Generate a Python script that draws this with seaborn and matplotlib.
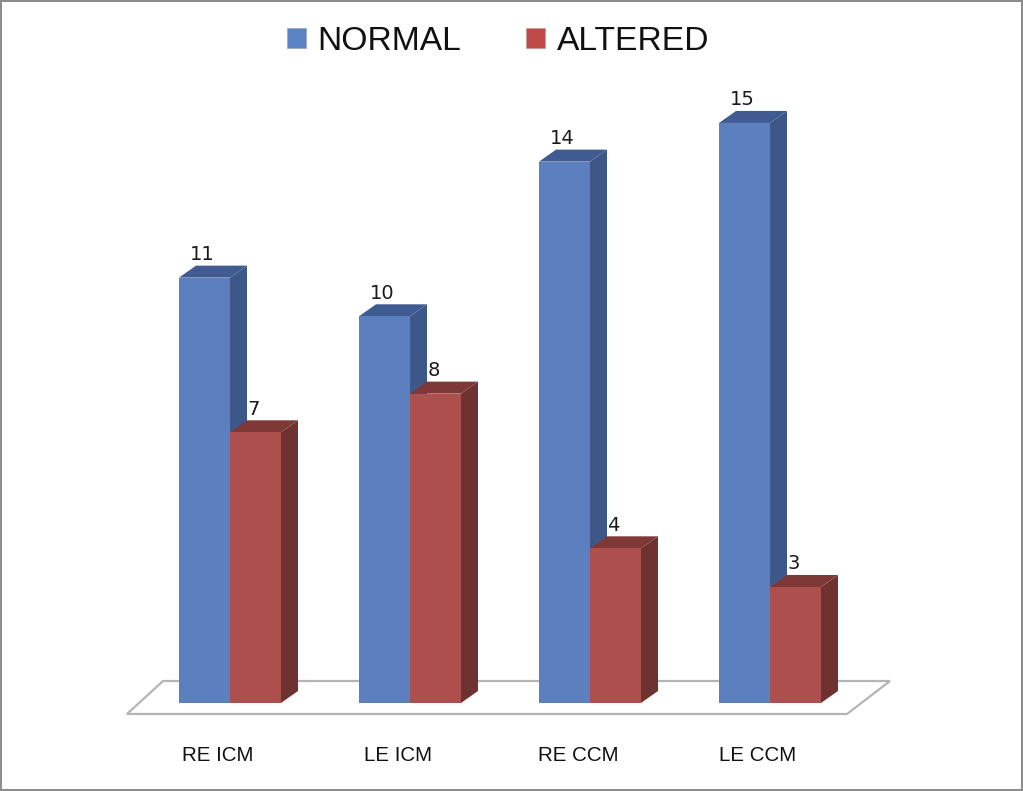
import matplotlib
matplotlib.use("Agg")
import pandas as pd
import seaborn as sns
import matplotlib.pyplot as plt
from matplotlib.patches import Polygon, Rectangle, Patch
from matplotlib.transforms import ScaledTranslation

groups = ['RE ICM', 'LE ICM', 'RE CCM', 'LE CCM']
normal = [11, 10, 14, 15]
altered = [7, 8, 4, 3]

W, H = 1023, 791
BASE = 703          # pixel row of bar base
UNIT = 38.67        # pixels per count
STEP = 180          # pixels between groups
FIRST = 230         # pixel column of first group
DX, DY = 17, 12     # depth of the fake 3d

sns.set_theme(style='white')
plt.rcParams['font.family'] = ['Liberation Sans', 'DejaVu Sans']

df = pd.DataFrame({'group': groups * 2,
                   'kind': ['NORMAL'] * 4 + ['ALTERED'] * 4,
                   'count': normal + altered})

fig = plt.figure(figsize=(W / 100, H / 100), dpi=100)
ax = fig.add_axes([0, (H - BASE) / H, 1, BASE / H])
sns.barplot(data=df, x='group', y='count', hue='kind', ax=ax, width=102 / STEP, gap=0,
            palette={'NORMAL': '#5b7fbf', 'ALTERED': '#ad504d'},
            saturation=1, errorbar=None, legend=False, zorder=2,
            edgecolor='none', linewidth=0)
ax.set_xlim(-FIRST / STEP, (W - FIRST) / STEP)
ax.set_ylim(0, BASE / UNIT)
ax.set_xlabel('')
ax.set_ylabel('')
ax.set_yticks([])
sns.despine(ax=ax, left=True, bottom=True)

dx = DX / STEP
dy = DY / UNIT

# floor plate under the bars
floor = Polygon([(-103 / STEP, -11 / UNIT), (-67 / STEP, 22 / UNIT),
                 (660 / STEP, 22 / UNIT), (617 / STEP, -11 / UNIT)],
                closed=True, fc='white', ec='#b5b5b5', lw=1.6, clip_on=False, zorder=0.5)
ax.add_patch(floor)

# side and top faces, labels
bars = [b for b in ax.patches if b is not floor]
shades = [('#3e5789', '#3f5b92')] * 4 + [('#6e3331', '#7e3836')] * 4
for k, (bar, (side_c, top_c)) in enumerate(zip(bars, shades)):
    x0, w, h = bar.get_x(), bar.get_width(), bar.get_height()
    x1 = x0 + w
    ax.add_patch(Polygon([(x1, 0), (x1 + dx, dy), (x1 + dx, h + dy), (x1, h)],
                         closed=True, fc=side_c, ec='none', zorder=1 + k * 0.01))
    ax.add_patch(Polygon([(x0, h), (x0 + dx, h + dy), (x1 + dx, h + dy), (x1, h)],
                         closed=True, fc=top_c, ec='none', zorder=1 + k * 0.01))
    ax.annotate(str(int(h)), (x0 + w / 2, h), xytext=(-2, 23), textcoords='offset pixels',
                ha='center', va='center', fontsize=14, color='#1a1a1a', family='DejaVu Sans')

# group labels sit left of the group centre
ax.set_xticks(range(len(groups)))
ax.set_xticklabels(groups, fontsize=14.8, color='#111111')
ax.tick_params(axis='x', length=0, pad=31)
shift = ScaledTranslation(-12 / 100, 0, fig.dpi_scale_trans)
for lab in ax.get_xticklabels():
    lab.set_transform(lab.get_transform() + shift)

handles = [Patch(fc='#5b82c4', ec='#9aa9c8', lw=0.6), Patch(fc='#bf4a47', ec='#c79a98', lw=0.6)]
leg = fig.legend(handles, ['NORMAL', 'ALTERED'], loc='center', ncol=2, frameon=False,
                 fontsize=24.2, bbox_to_anchor=(498 / W, 1 - 41.5 / H),
                 handlelength=0.56, handleheight=0.56, handletextpad=0.34,
                 columnspacing=1.95, labelcolor='#111111')

# thin picture frame
fig.add_artist(Rectangle((1 / W, 1.5 / H), (W - 2.5) / W, (H - 2.5) / H,
                         transform=fig.transFigure, fc='none', ec='#8a8a8a', lw=1.4))

fig.savefig('out.png', dpi=100)
